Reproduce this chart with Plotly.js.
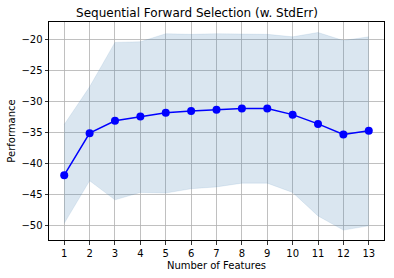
<!DOCTYPE html>
<html><head><meta charset="utf-8">
<script src="https://cdn.plot.ly/plotly-3.0.1.min.js"></script>
<style>html,body{margin:0;padding:0;background:#fff}</style>
</head><body><div id="chart" style="width:394px;height:278px"></div>
<script>
const features = [1,2,3,4,5,6,7,8,9,10,11,12,13];
const meanPerf = [-41.9,-35.1,-33.1,-32.4,-31.8,-31.5,-31.3,-31.1,-31.1,-32.1,-33.6,-35.3,-34.7];
const upperPerf = [-33.7,-27.6,-20.4,-20.3,-19.0,-19.1,-19.0,-19.1,-19.1,-19.5,-18.8,-20.1,-19.5];
const lowerPerf = [-49.7,-42.8,-45.9,-44.7,-44.8,-44.1,-43.8,-43.2,-43.2,-44.7,-48.5,-50.8,-50.1];
const yTicks = [-50,-45,-40,-35,-30,-25,-20];
const yTickText = yTicks.map(v => '\u2212' + Math.abs(v));

const font = {family: 'DejaVu Sans', size: 10, color: '#000'};
const data = [
  {x: features, y: upperPerf, mode: 'lines', line: {width: 0.6, color: 'rgba(70,130,180,0.2)'}, showlegend: false, hoverinfo: 'skip'},
  {x: features, y: lowerPerf, mode: 'lines', line: {width: 0.6, color: 'rgba(70,130,180,0.2)'}, fill: 'tonexty', fillcolor: 'rgba(70,130,180,0.2)', showlegend: false, hoverinfo: 'skip'},
  {x: features, y: meanPerf, mode: 'lines+markers', line: {color: 'blue', width: 1.5}, marker: {color: 'blue', size: 8}, showlegend: false}
];
const axisCommon = {showline: true, mirror: true, linecolor: '#000', linewidth: 1, ticks: 'outside', ticklen: 3.5, tickcolor: '#000', tickwidth: 0.8, showgrid: true, gridcolor: '#b0b0b0', gridwidth: 0.8, zeroline: false, tickfont: font};
const layout = {
  width: 394, height: 278,
  margin: {l: 49, r: 10, t: 22, b: 38},
  paper_bgcolor: '#fff', plot_bgcolor: '#fff',
  font: font,
  title: {text: 'Sequential Forward Selection (w. StdErr)', font: {family: 'DejaVu Sans', size: 12, color: '#000'}, x: 0.5, xanchor: 'center', y: 0.97, yanchor: 'top'},
  xaxis: Object.assign({}, axisCommon, {range: [0.4, 13.6], tickmode: 'array', tickvals: features, title: {text: 'Number of Features', font: font, standoff: 4}}),
  yaxis: Object.assign({}, axisCommon, {range: [-52.4, -17.1], tickmode: 'array', tickvals: yTicks, ticktext: yTickText, title: {text: 'Performance', font: font, standoff: 3}})
};
Plotly.newPlot('chart', data, layout, {displayModeBar: false, staticPlot: true});
</script></body></html>
